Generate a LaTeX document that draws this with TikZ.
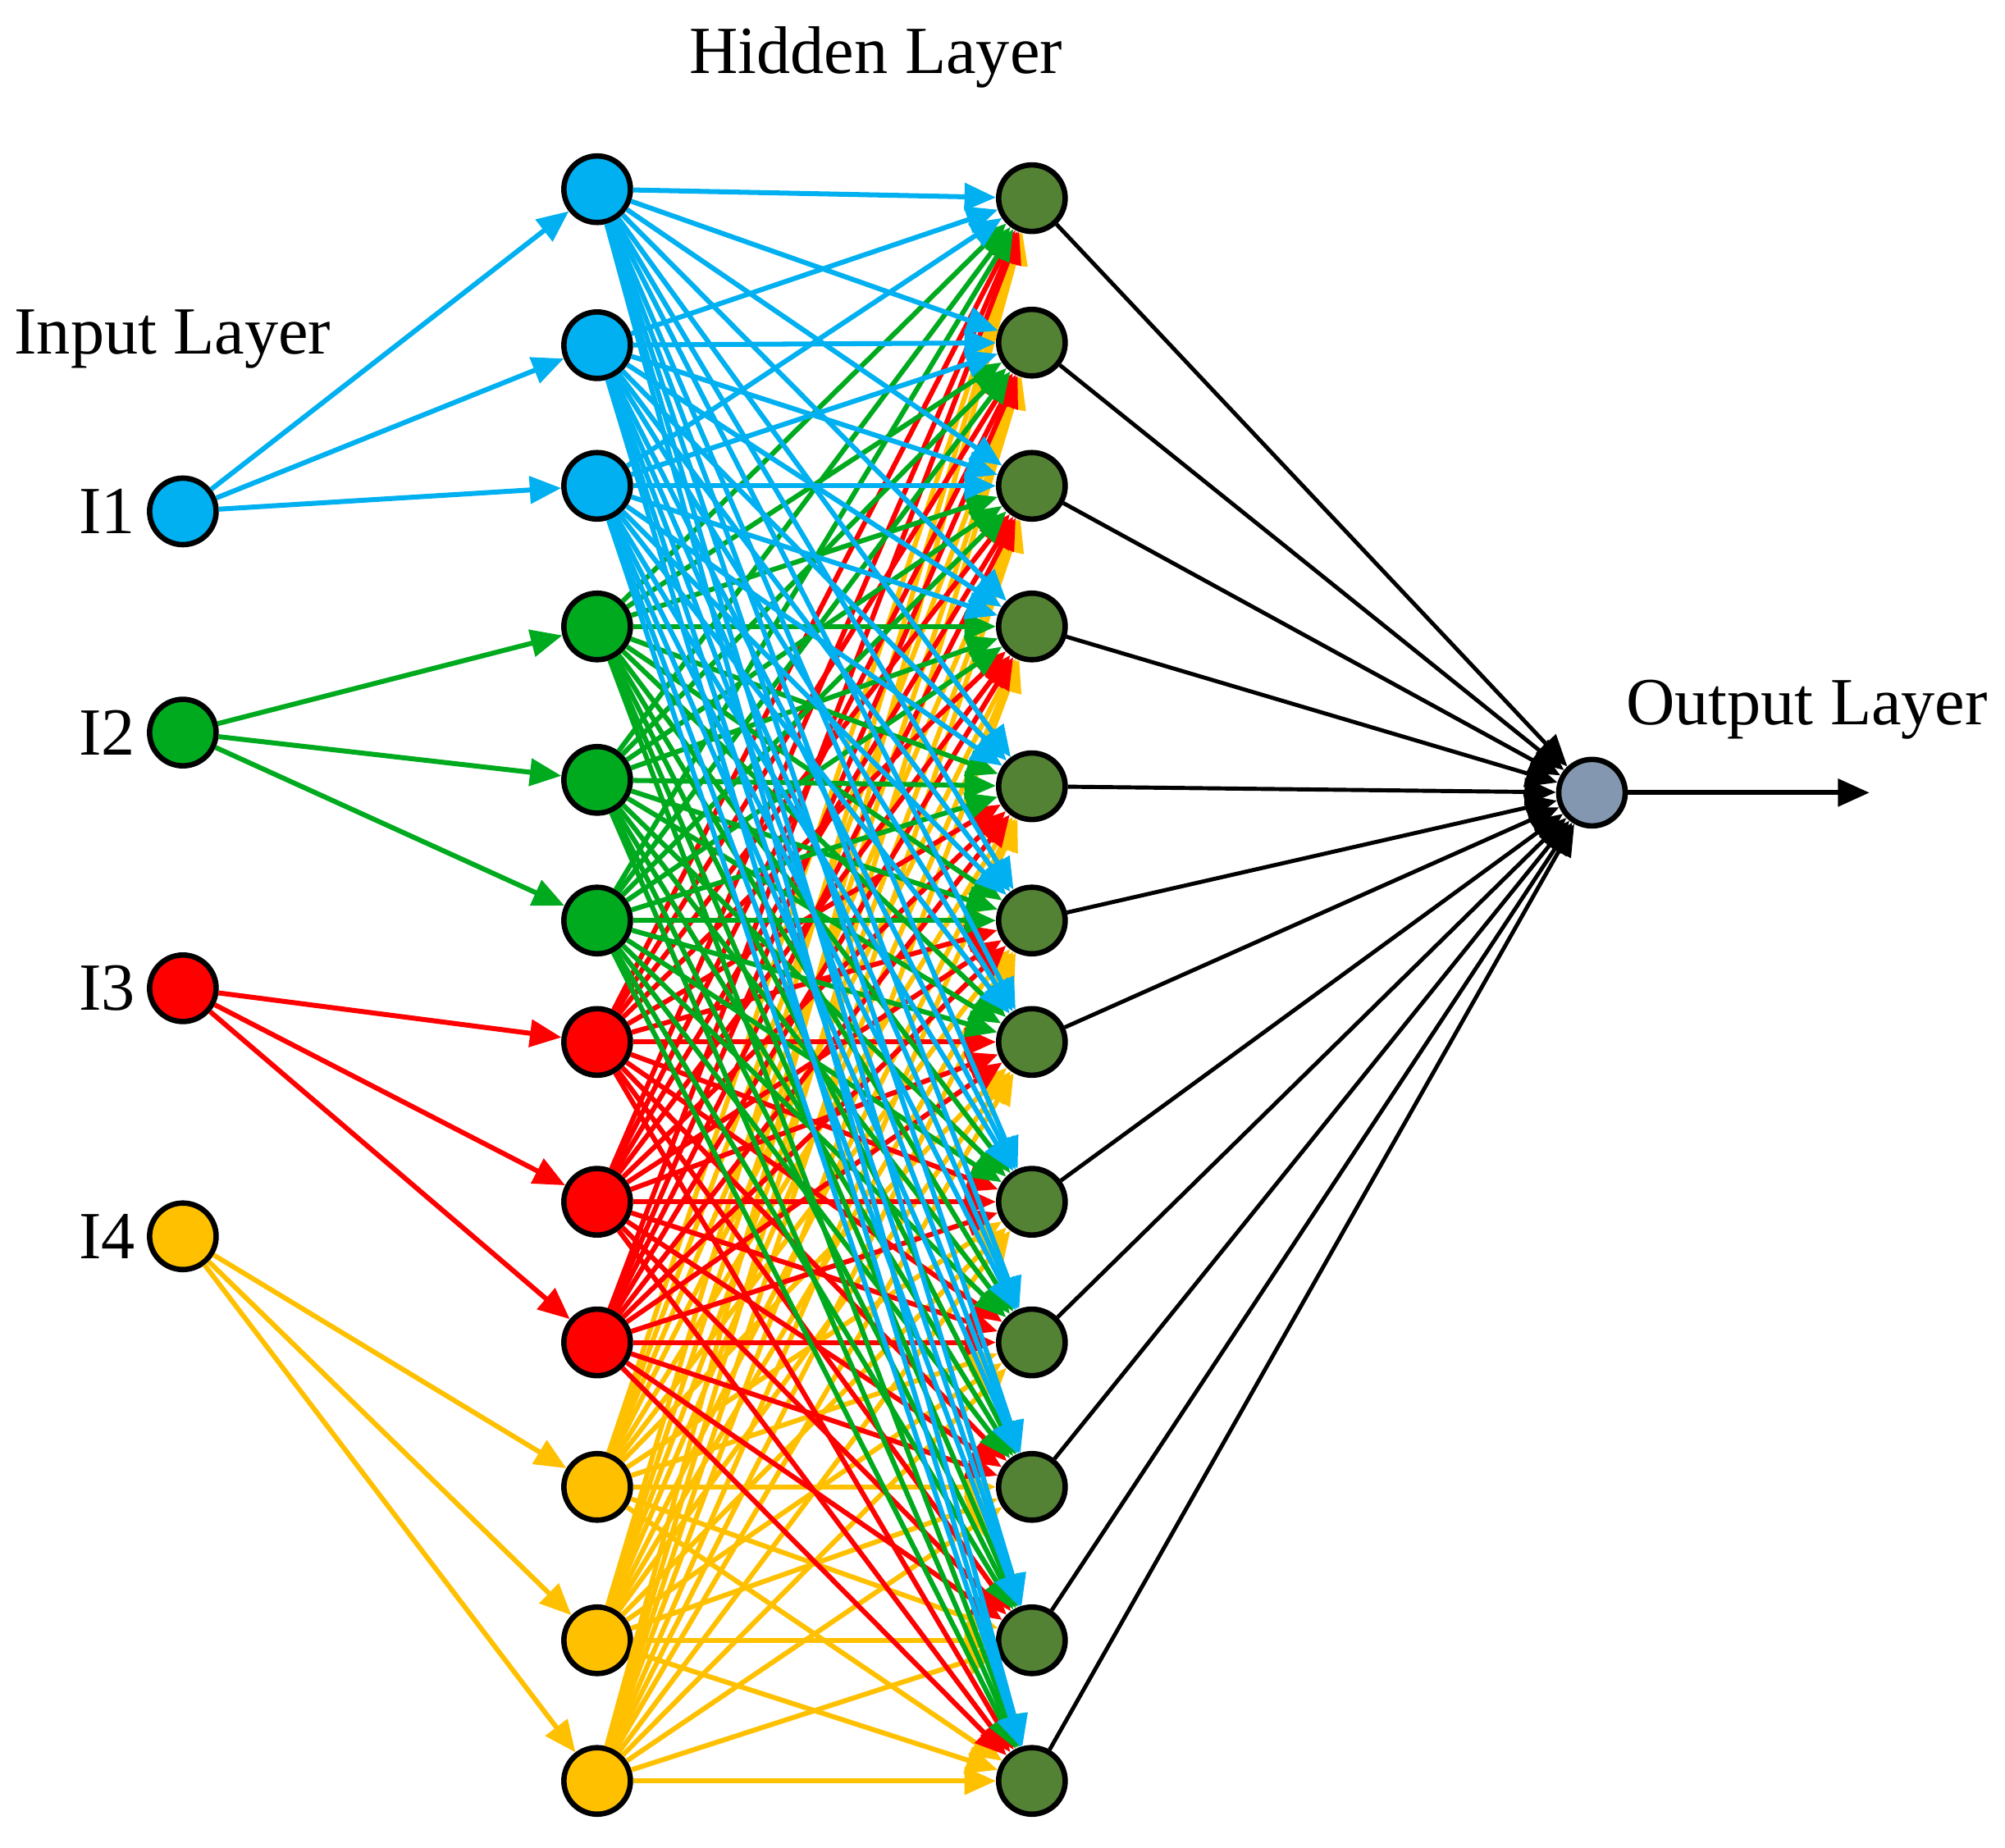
\documentclass[tikz,border=0pt]{standalone}
\usepackage{fontspec}
\setmainfont{Liberation Serif}
\usetikzlibrary{arrows.meta,positioning}
\definecolor{cblue}{RGB}{0,176,240}
\definecolor{cgreen}{RGB}{0,170,30}
\definecolor{cred}{RGB}{255,0,0}
\definecolor{cyellow}{RGB}{255,192,0}
\definecolor{cdark}{RGB}{84,130,53}
\definecolor{cout}{RGB}{132,151,176}

\begin{document}
\begin{tikzpicture}[x=0.01cm,y=-0.01cm
    , every node/.style={inner sep=1pt}
    , neuron/.style={circle,draw=black,line width=1.2pt,minimum size=0.52cm,inner sep=0pt}
    , conn/.style={line width=1.1pt,-{Triangle[length=7pt,width=6pt]}}
    , lbl/.style={font=\fontsize{15}{18}\selectfont}
]
    \useasboundingbox (0,0) rectangle (1568,1445);

    % Input layer
    \foreach \y/\c[count=\i] in {400/cblue,573/cgreen,773/cred,967/cyellow}
    {
        \node[neuron,fill=\c] (in\i) at (143,\y) {};
        \node[lbl,left=0.5mm of in\i] {I\i};
    }

    % Hidden layers
    \foreach \ya/\yb/\c[count=\i] in {148/155/cblue,270/268/cblue,380/380/cblue,
        490/490/cgreen,610/615/cgreen,720/720/cgreen,815/815/cred,940/940/cred,
        1050/1050/cred,1163/1163/cyellow,1283/1283/cyellow,1393/1393/cyellow}
    {
        \node[neuron,fill=\c] (ha\i) at (467,\ya) {};
        \node[neuron,fill=cdark] (hb\i) at (807,\yb) {};
    }

    \node[neuron,fill=cout] (out) at (1245,620) {};
    \coordinate (end) at (1462,620);

    % Labels
    \node[lbl] at (685,45) {Hidden Layer};
    \node[lbl] at (135,265) {Input Layer};
    \node[lbl] at (1413,555) {Output Layer};

    % Input to first hidden layer
    \foreach \i/\c in {1/cblue,2/cgreen,3/cred,4/cyellow}
        \foreach \k in {1,2,3}
        {
            \pgfmathtruncatemacro{\j}{3*(\i-1)+\k}
            \draw[conn,\c] (in\i) -- (ha\j);
        }

    % First to second hidden layer
    \foreach \c[count=\i] in {cyellow,cyellow,cyellow,cred,cred,cred,cgreen,cgreen,cgreen,cblue,cblue,cblue}
    {
        \pgfmathtruncatemacro{\s}{13-\i}
        \foreach \j in {1,...,12}
            \draw[conn,\c] (ha\s) -- (hb\j);
    }

    % Second hidden layer to output
    \foreach \j in {1,...,12}
        \draw[conn,black,line width=0.9pt] (hb\j) -- (out);
    \draw[conn,black] (out) -- (end);
\end{tikzpicture}
\end{document}
